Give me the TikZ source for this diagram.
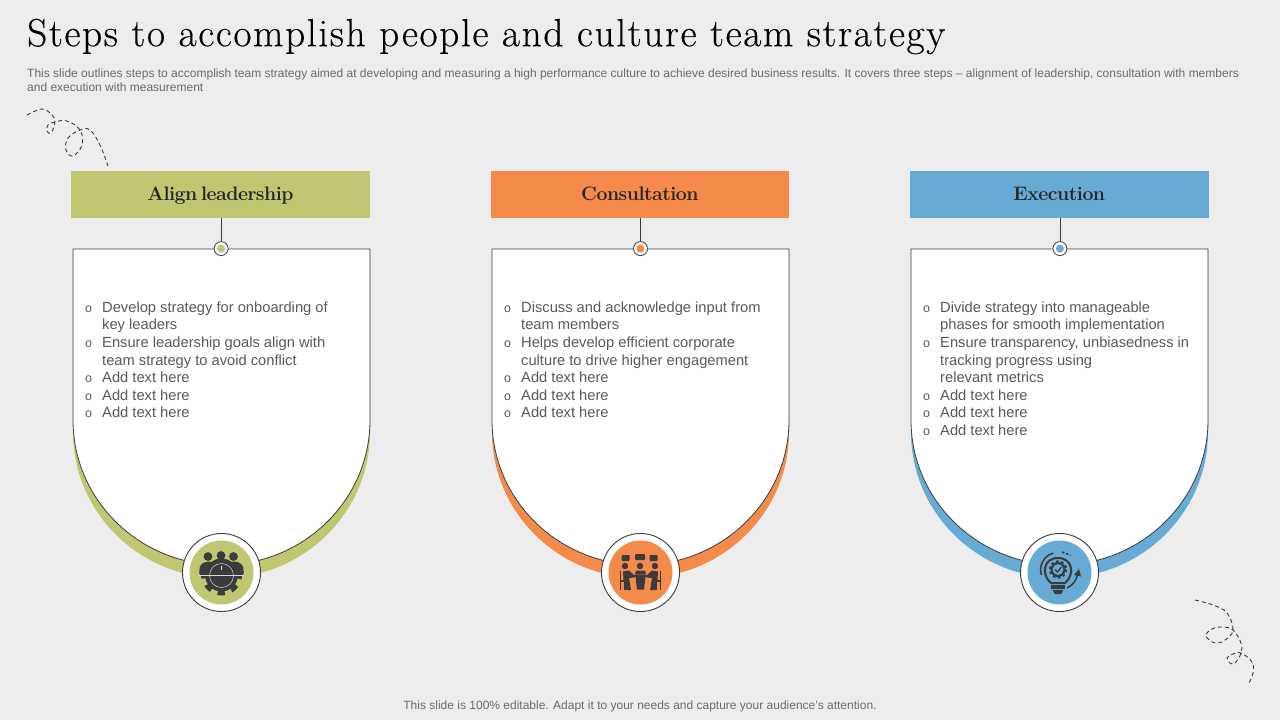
\documentclass[tikz,border=0pt]{standalone}
\usepackage{fontspec}
\setmainfont{Liberation Sans}
\newfontfamily\titlefont[LetterSpace=4.2,FakeBold=0.35]{Latin Modern Roman}
\newfontfamily\headfont[LetterSpace=-2.6,WordSpace=0.55]{Latin Modern Roman}
\usetikzlibrary{positioning,calc}
\definecolor{slidebg}{HTML}{EDEDED}
\definecolor{inkdark}{HTML}{3B3B3B}
\definecolor{bodygray}{HTML}{595959}
\definecolor{leadolive}{HTML}{C0C672}
\definecolor{consorange}{HTML}{F58B4A}
\definecolor{execblue}{HTML}{67ABD4}
\newcommand{\itemo}{\makebox[18pt][l]{\fontsize{12.5}{12}\selectfont\hspace{0.8pt}o}}
\newcommand{\itemgap}{\hspace*{18pt}}

\begin{document}
\begin{tikzpicture}[
    x=1pt, y=-1pt,
    headbox/.style={rectangle, minimum width=298.5pt, minimum height=47pt, inner sep=0pt, text height=15pt, text depth=3pt, text=black!85, font=\headfont\bfseries\fontsize{19.5}{22}\selectfont},
    dotring/.style={circle, draw=inkdark, line width=0.8pt, fill=white, minimum size=14pt, inner sep=0pt, xshift=0.6pt},
    dotfill/.style={circle, minimum size=8pt, inner sep=0pt},
    iconring/.style={circle, draw=inkdark, line width=0.9pt, fill=white, minimum size=78pt, inner sep=0pt},
    icondisc/.style={circle, minimum size=64pt, inner sep=0pt},
    cardback/.style={line width=0pt},
    cardface/.style={draw=inkdark, line width=0.8pt, fill=white},
    cardtext/.style={anchor=north west, inner sep=0pt, align=left, text=bodygray, font=\fontsize{14.7}{17.6}\selectfont},
    swirl/.style={draw=inkdark, line width=0.9pt, dash pattern=on 4pt off 3pt},
    link/.style={draw=inkdark, line width=0.8pt},
    icon/.style={fill=inkdark, draw=none},
    iconline/.style={draw=inkdark, fill=none},
    iconcut/.style={draw=white!80!inkdark, line width=0.5pt, fill=none}
]
    \useasboundingbox (0,0) rectangle (1280,720);
    \fill[slidebg] (0,0) rectangle (1280,720);

    % title block
    \node[anchor=west, inner sep=0pt, text=black, font=\titlefont\fontsize{39.3}{42}\selectfont] (title) at (27,36.5) {Steps to accomplish people and culture team strategy};
    \node[anchor=north west, inner sep=0pt, align=left, text=black!58, font=\fontsize{12}{14.3}\selectfont] (intro) at (27,68.5) {This slide outlines steps to accomplish team strategy aimed at developing and measuring a high performance culture to achieve desired business results. It covers three steps -- alignment of leadership, consultation with members\\and execution with measurement};
    \node[text=black!58, inner sep=0pt, font=\fontsize{12}{14}\selectfont] (foot) at (640,706) {This slide is 100\% editable. Adapt it to your needs and capture your audience's attention.};

    % swirls
    \draw[swirl] plot[smooth, tension=0.65] coordinates {(27,115) (42,109) (52,115) (55,122) (51,133) (47,131) (48,125) (55,122) (67,121) (80,130) (82,145) (73,156) (66,150) (68,138) (80,130) (90,130) (100,145) (108,166)};
    \draw[swirl] plot[smooth, tension=0.65] coordinates {(1195,600) (1213,605) (1227,613) (1233,630) (1225,640) (1215,643) (1206,636) (1212,629) (1223,627) (1233,630) (1241,643) (1241,653) (1235,663) (1230,663) (1227,658) (1233,654) (1241,653) (1252,662) (1253,673) (1249,683)};

    % cards
    \fill[leadolive, cardback] (73,249) -- (73,432) arc[start angle=180, end angle=0, x radius=148.5, y radius=146] -- (370,249) -- cycle;
    \draw[cardface] (73,249) -- (73,420) arc[start angle=180, end angle=0, x radius=148.5, y radius=145] -- (370,249) -- cycle;
    \fill[consorange, cardback] (492,249) -- (492,432) arc[start angle=180, end angle=0, x radius=148.5, y radius=146] -- (789,249) -- cycle;
    \draw[cardface] (492,249) -- (492,420) arc[start angle=180, end angle=0, x radius=148.5, y radius=145] -- (789,249) -- cycle;
    \fill[execblue, cardback] (911,249) -- (911,432) arc[start angle=180, end angle=0, x radius=148.5, y radius=146] -- (1208,249) -- cycle;
    \draw[cardface] (911,249) -- (911,420) arc[start angle=180, end angle=0, x radius=148.5, y radius=145] -- (1208,249) -- cycle;

    % headers and their dots
    \node[headbox, fill=leadolive] (lead) at (220.5,194.5) {Align leadership};
    \node[headbox, fill=consorange, right=120.5pt of lead] (cons) {Consultation};
    \node[headbox, fill=execblue, right=120.5pt of cons] (exec) {Execution};
    \node[dotring, below=23pt of lead] (leaddot) {};
    \node[dotring, below=23pt of cons] (consdot) {};
    \node[dotring, below=23pt of exec] (execdot) {};
    \node[dotfill, fill=leadolive] at (leaddot) {};
    \node[dotfill, fill=consorange] at (consdot) {};
    \node[dotfill, fill=execblue] at (execdot) {};
    \draw[link] (leaddot) -- (leaddot |- lead.south);
    \draw[link] (consdot) -- (consdot |- cons.south);
    \draw[link] (execdot) -- (execdot |- exec.south);

    % card texts
    \node[cardtext] (leadtext) at (84,301.5) {\itemo Develop strategy for onboarding of\\\itemgap key leaders\\\itemo Ensure leadership goals align with\\\itemgap team strategy to avoid conflict\\\itemo Add text here\\\itemo Add text here\\\itemo Add text here};
    \node[cardtext] (constext) at (503,301.5) {\itemo Discuss and acknowledge input from\\\itemgap team members\\\itemo Helps develop efficient corporate\\\itemgap culture to drive higher engagement\\\itemo Add text here\\\itemo Add text here\\\itemo Add text here};
    \node[cardtext] (exectext) at (922,301.5) {\itemo Divide strategy into manageable\\\itemgap phases for smooth implementation\\\itemo Ensure transparency, unbiasedness in\\\itemgap tracking progress using\\\itemgap relevant metrics\\\itemo Add text here\\\itemo Add text here\\\itemo Add text here};

    % icon rings
    \node[iconring] (leadring) at (221.5,572.5) {};
    \node[icondisc, fill=leadolive] (leaddisc) at (leadring) {};
    \node[iconring] (consring) at (640.5,572.5) {};
    \node[icondisc, fill=consorange] (consdisc) at (consring) {};
    \node[iconring] (execring) at (1059.5,572.5) {};
    \node[icondisc, fill=execblue] (execdisc) at (execring) {};

    % team and gear icon
    \draw[inkdark, line width=5pt, dash pattern=on 7pt off 7pt, dash phase=3.5pt] (203.5,575) arc[start angle=180, end angle=0, radius=18];
    \fill[icon] (221.5,575) circle (16.5);
    \fill[icon] (208,556.5) circle (4.4);
    \fill[icon] (221,555.5) circle (4.4);
    \fill[icon] (233.5,556.5) circle (4.4);
    \fill[icon, rounded corners=2pt] (199,575) -- (200,565) -- (206,561.5) -- (211,561.5) -- (214,563) -- (217,560.5) -- (225,560.5) -- (228,563) -- (232,561.5) -- (237,561.5) -- (243,565) -- (244,575) -- cycle;
    \draw[iconcut, line width=0.8pt] (198,575.5) -- (244,575.5);
    \draw[iconcut, line width=0.8pt] (221,566) -- (221,570);
    \draw[iconcut] (209.5,575.5) arc[start angle=180, end angle=0, radius=12];
    \draw[iconcut] (209.5,575.5) arc[start angle=180, end angle=360, radius=12];

    % meeting icon
    \fill[icon, rounded corners=1pt] (621.5,555) rectangle (629.5,561);
    \fill[icon, rounded corners=1pt] (635,554) rectangle (645,560);
    \fill[icon, rounded corners=1pt] (649.5,555) rectangle (657.5,561);
    \fill[icon] (625,566) circle (3.2);
    \fill[icon] (640,566) circle (3.2);
    \fill[icon] (655,566) circle (3.2);
    \fill[icon] (623,571.5) -- (629,570.5) -- (634,575) -- (634,577.5) -- (629,578) -- (631,590) -- (626.5,590) -- (623.5,580) -- cycle;
    \fill[icon] (658,571.5) -- (652,570.5) -- (647,575) -- (647,577.5) -- (652,578) -- (650,590) -- (654.5,590) -- (657.5,580) -- cycle;
    \fill[icon] (636,570.5) -- (645,570.5) -- (646,574.5) -- (635,574.5) -- cycle;
    \fill[icon] (631,575) rectangle (650,577);
    \fill[icon] (635.5,577) -- (645.5,577) -- (644,589.5) -- (637,589.5) -- cycle;
    \draw[iconline, line width=1.2pt] (620.5,571) -- (620.5,590) (620.5,581) -- (625,581) -- (625,590);
    \draw[iconline, line width=1.2pt] (660.5,571) -- (660.5,590) (660.5,581) -- (656,581) -- (656,590);

    % bulb icon
    \draw[iconline, line width=2pt] (1051,583) .. controls (1041,575) and (1043,558) .. (1058,558) .. controls (1073,558) and (1075,575) .. (1065,583) -- cycle;
    \draw[inkdark, line width=2pt, dash pattern=on 2.6pt off 2.6pt] (1058,569.5) circle (8.2);
    \fill[icon] (1058,569.5) circle (7.6);
    \fill[execblue] (1058,569.5) circle (5.4);
    \draw[iconline, line width=1.3pt] (1055,569.5) -- (1057.5,572) -- (1061.5,567);
    \fill[icon] (1051,584.5) rectangle (1065,589);
    \fill[icon] (1052.5,590) -- (1063.5,590) -- (1061,594) -- (1055,594) -- cycle;
    \draw[iconline, line width=1.5pt] (1041.3,575) arc[start angle=163, end angle=254, radius=17.5];
    \draw[iconline, line width=1.5pt, dash pattern=on 2.5pt off 2pt] (1062,552) -- (1071,555.5);
    \draw[iconline, line width=1.5pt] (1067,588) .. controls (1073,585) and (1077,580) .. (1077.5,574);
    \fill[icon] (1074,575) -- (1079,569) -- (1081,576.5) -- cycle;
\end{tikzpicture}
\end{document}
